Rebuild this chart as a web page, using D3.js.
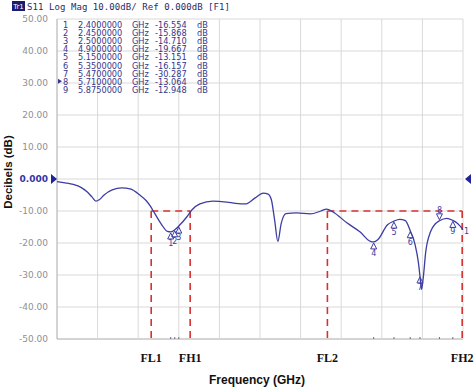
<!DOCTYPE html>
<html>
<head>
<meta charset="utf-8">
<script src="https://cdn.jsdelivr.net/npm/d3@7"></script>
<style>
    body { margin: 0; background: #fff; }
</style>
</head>
<body>
<div id="chart"></div>
<script>
// Кривая S11: частота (ГГц) и уровень (дБ)
const curveFreq = [1.00, 1.10, 1.20, 1.30, 1.37, 1.43, 1.48, 1.52, 1.58, 1.68, 1.80, 1.90, 2.02, 2.10, 2.15, 2.20, 2.29, 2.36, 2.40, 2.45, 2.50, 2.60, 2.66, 2.76, 2.92, 3.09, 3.20, 3.32, 3.44, 3.54, 3.60, 3.64, 3.68, 3.72, 3.76, 3.82, 3.95, 4.12, 4.25, 4.32, 4.40, 4.57, 4.73, 4.86, 4.90, 4.95, 5.07, 5.15, 5.22, 5.29, 5.35, 5.41, 5.45, 5.47, 5.49, 5.51, 5.54, 5.60, 5.66, 5.71, 5.80, 5.875, 5.93, 6.00];
const curveDb = [-0.8, -1.2, -1.7, -2.7, -4.0, -5.6, -6.9, -6.5, -5.0, -3.4, -2.8, -3.1, -5.0, -6.8, -8.5, -10.6, -14.3, -16.4, -16.55, -15.87, -14.71, -11.8, -9.7, -7.8, -6.9, -7.2, -7.6, -7.8, -5.9, -4.4, -4.7, -6.5, -12.8, -19.5, -14.0, -10.8, -10.6, -10.9, -10.0, -9.4, -10.3, -13.7, -16.5, -19.5, -19.67, -19.0, -14.3, -13.15, -12.6, -13.0, -16.16, -20.5, -26.0, -30.29, -34.5, -31.0, -23.0, -16.5, -14.0, -13.06, -12.3, -12.95, -13.8, -15.8];

// Маркеры анализатора
const markerIds = [1, 2, 3, 4, 5, 6, 7, 8, 9];
const markerFreq = [2.40, 2.45, 2.50, 4.90, 5.15, 5.35, 5.47, 5.71, 5.875];
const markerDb = [-16.554, -15.868, -14.710, -19.667, -13.151, -16.157, -30.287, -13.064, -12.948];
const activeMarker = 8;

// Границы полос
const bandLabels = ["FL1", "FH1", "FL2", "FH2"];
const bandFreq = [2.16, 2.64, 4.33, 5.99];
const bandLevel = -10;

// Ось Y
const yTicks = [50, 40, 30, 20, 10, 0, -10, -20, -30, -40, -50];
const xGrid = [1, 1.5, 2, 2.5, 3, 3.5, 4, 4.5, 5, 5.5, 6];

const width = 474;
const height = 387;
const plotLeft = 57;
const plotRight = 463;
const plotTop = 19;
const plotBottom = 339;

const svg = d3.select("#chart").append("svg")
    .attr("width", width)
    .attr("height", height);

const xScale = d3.scaleLinear().domain([1, 6]).range([plotLeft, plotRight]);
const yScale = d3.scaleLinear().domain([-50, 50]).range([plotBottom, plotTop]);

// обычный дефис вместо юникодного минуса
const fmt = spec => v => d3.format(spec)(v).replace("\u2212", "-");

// Сетка
svg.selectAll(".hgrid")
    .data(yTicks)
    .enter()
    .append("line")
    .attr("x1", plotLeft)
    .attr("x2", plotRight)
    .attr("y1", d => yScale(d))
    .attr("y2", d => yScale(d))
    .attr("stroke", d => d === -50 ? "#a8a8a8" : "#d9d9d9")
    .attr("stroke-width", 1);

svg.selectAll(".vgrid")
    .data(xGrid)
    .enter()
    .append("line")
    .attr("x1", d => xScale(d))
    .attr("x2", d => xScale(d))
    .attr("y1", plotTop)
    .attr("y2", plotBottom)
    .attr("stroke", d => d === 1 ? "#a8a8a8" : "#d9d9d9")
    .attr("stroke-width", 1);

// Подписи оси Y
svg.selectAll(".ylabel")
    .data(yTicks)
    .enter()
    .append("text")
    .attr("x", 48)
    .attr("y", d => yScale(d))
    .attr("dy", "0.35em")
    .attr("text-anchor", "end")
    .text(d => d === 0 ? "0.000" : fmt(".2f")(d))
    .style("font-family", "DejaVu Sans")
    .style("font-size", "9px")
    .style("font-weight", d => d === 0 ? "bold" : "normal")
    .style("fill", d => d === 0 ? "#3535a8" : "#909090");

// Указатели опорного уровня
svg.append("path")
    .attr("d", `M${plotLeft - 6},${yScale(0) - 5}L${plotLeft},${yScale(0)}L${plotLeft - 6},${yScale(0) + 5}Z`)
    .attr("fill", "#23239a");
svg.append("path")
    .attr("d", `M${plotRight + 8},${yScale(0) - 5}L${plotRight + 2},${yScale(0)}L${plotRight + 8},${yScale(0) + 5}Z`)
    .attr("fill", "#23239a");

// Красные пунктирные рамки полос
const redDash = (x1, y1, x2, y2) => svg.append("line")
    .attr("x1", x1).attr("y1", y1).attr("x2", x2).attr("y2", y2)
    .attr("stroke", "#d93030")
    .attr("stroke-width", 1.6)
    .attr("stroke-dasharray", "7,5");

for (let i = 0; i < bandFreq.length; i += 2) {
    redDash(xScale(bandFreq[i]), yScale(bandLevel), xScale(bandFreq[i + 1]), yScale(bandLevel));
}
bandFreq.forEach(f => redDash(xScale(f), yScale(bandLevel), xScale(f), plotBottom));

// Кривая
const curveData = curveFreq.map((f, i) => ({ f: f, db: curveDb[i] }));
const line = d3.line()
    .x(d => xScale(d.f))
    .y(d => yScale(d.db))
    .curve(d3.curveMonotoneX);

svg.append("path")
    .datum(curveData)
    .attr("d", line)
    .attr("fill", "none")
    .attr("stroke", "#3d3da2")
    .attr("stroke-width", 1.3);

// Маркеры на кривой
markerIds.forEach((id, i) => {
    const mx = xScale(markerFreq[i]);
    const my = yScale(markerDb[i]);
    const up = id === activeMarker;
    const g = svg.append("g");
    if (up) {
        g.append("path")
            .attr("d", `M${mx},${my - 1}L${mx - 3},${my - 7}L${mx + 3},${my - 7}Z`)
            .attr("fill", "none").attr("stroke", "#3d3da2").attr("stroke-width", 1);
        g.append("text")
            .attr("x", mx).attr("y", my - 8)
            .attr("text-anchor", "middle")
            .text(id)
            .style("font-family", "DejaVu Sans").style("font-size", "8px").style("fill", "#3d3da2");
    } else {
        g.append("path")
            .attr("d", `M${mx},${my + 1}L${mx - 3},${my + 7}L${mx + 3},${my + 7}Z`)
            .attr("fill", "none").attr("stroke", "#3d3da2").attr("stroke-width", 1);
        g.append("text")
            .attr("x", mx).attr("y", my + 14)
            .attr("text-anchor", "middle")
            .text(id)
            .style("font-family", "DejaVu Sans").style("font-size", "8px").style("fill", "#3d3da2");
    }
    // засечки на нижней оси
    svg.append("line")
        .attr("x1", mx).attr("x2", mx)
        .attr("y1", plotBottom - 2).attr("y2", plotBottom)
        .attr("stroke", "#6a6a8a");
});

// Метка конца трассы
svg.append("text")
    .attr("x", xScale(6) + 1)
    .attr("y", yScale(curveDb[curveDb.length - 1]) + 4)
    .text("1")
    .style("font-family", "DejaVu Sans").style("font-size", "8px").style("fill", "#3d3da2");

// Таблица маркеров
const rowY = i => 28 + i * 8.1;
const tableStyle = sel => sel
    .style("font-family", "DejaVu Sans")
    .style("font-size", "8.2px")
    .style("fill", "#36368c");

markerIds.forEach((id, i) => {
    tableStyle(svg.append("text").attr("x", 63).attr("y", rowY(i)).text(id));
    tableStyle(svg.append("text").attr("x", 78).attr("y", rowY(i)).text(fmt(".7f")(markerFreq[i])));
    tableStyle(svg.append("text").attr("x", 132).attr("y", rowY(i)).text("GHz"));
    tableStyle(svg.append("text").attr("x", 155).attr("y", rowY(i)).text(fmt(".3f")(markerDb[i])));
    tableStyle(svg.append("text").attr("x", 197).attr("y", rowY(i)).text("dB"));
    if (id === activeMarker) {
        svg.append("path")
            .attr("d", `M58,${rowY(i) - 6}L62,${rowY(i) - 3.5}L58,${rowY(i) - 1}Z`)
            .attr("fill", "#36368c");
    }
});

// Заголовок трассы
svg.append("rect")
    .attr("x", 12).attr("y", 1)
    .attr("width", 13).attr("height", 10)
    .attr("fill", "#1c1c6e");
svg.append("text")
    .attr("x", 18.5).attr("y", 9)
    .attr("text-anchor", "middle")
    .text("Tr1")
    .style("font-family", "DejaVu Sans").style("font-size", "7px").style("fill", "#fff");
svg.append("text")
    .attr("x", 27).attr("y", 10)
    .attr("textLength", 203)
    .attr("lengthAdjust", "spacing")
    .text("S11 Log Mag 10.00dB/ Ref 0.000dB [F1]")
    .style("font-family", "DejaVu Sans Mono")
    .style("font-size", "9px")
    .style("fill", "#2a2a6a");

// Подписи частот полос
svg.selectAll(".band-label")
    .data(bandLabels)
    .enter()
    .append("text")
    .attr("x", (d, i) => xScale(bandFreq[i]))
    .attr("y", 362)
    .attr("text-anchor", "middle")
    .text(d => d)
    .style("font-family", "Liberation Serif")
    .style("font-weight", "bold")
    .style("font-size", "12px")
    .style("fill", "#111");

// Названия осей
svg.append("text")
    .attr("x", 257)
    .attr("y", 384)
    .attr("text-anchor", "middle")
    .text("Frequency (GHz)")
    .style("font-family", "Liberation Sans")
    .style("font-weight", "bold")
    .style("font-size", "12px")
    .style("fill", "#111");

svg.append("text")
    .attr("transform", "translate(12, 172) rotate(-90)")
    .attr("text-anchor", "middle")
    .text("Decibels (dB)")
    .style("font-family", "Liberation Sans")
    .style("font-weight", "bold")
    .style("font-size", "11.5px")
    .style("fill", "#111");
</script>
</body>
</html>
